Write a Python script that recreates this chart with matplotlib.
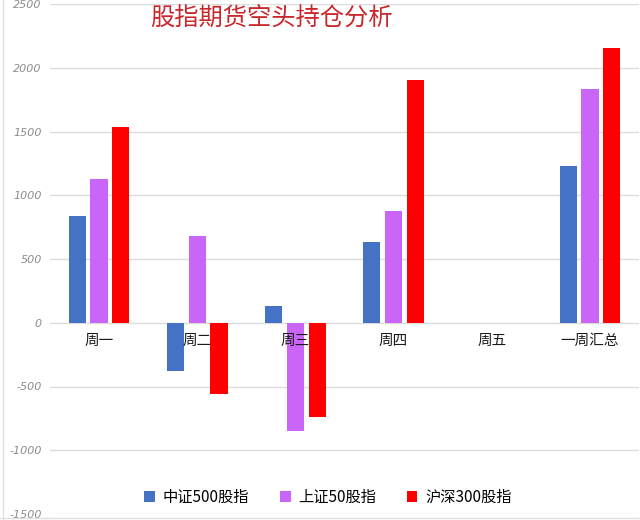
import matplotlib
matplotlib.use("Agg")
import matplotlib.pyplot as plt
from matplotlib.lines import Line2D
from matplotlib.patches import Patch
import numpy as np

plt.rcParams['font.family'] = ['Noto Sans CJK SC', 'DejaVu Sans']

categories = ["周一", "周二", "周三", "周四", "周五", "一周汇总"]
series_names = ["中证500股指", "上证50股指", "沪深300股指"]
csi500 = [836, -380, 128, 630, 0, 1227]
sse50 = [1125, 682, -849, 875, 0, 1836]
csi300 = [1539, -555, -742, 1906, 0, 2156]
yticks = [-1500, -1000, -500, 0, 500, 1000, 1500, 2000, 2500]
title = "股指期货空头持仓分析"

colors = ["#4472C4", "#C965F7", "#FF0000"]

fig = plt.figure(figsize=(6.4, 5.2), dpi=100)
ax = fig.add_axes([50/640, (520-514)/520, 589/640, 510/520])

x = np.arange(len(categories))
w = 0.175
off = 0.222
for i, (vals, c, name) in enumerate(zip([csi500, sse50, csi300], colors, series_names)):
    ax.bar(x + (i - 1) * off, vals, width=w, color=c, label=name, zorder=2)

ax.set_xlim(-0.5, len(categories) - 0.5)
ax.set_ylim(-1500, 2500)
ax.set_yticks(yticks)
ax.set_yticklabels([str(v) for v in yticks], fontsize=8, color="#8C8C8C",
                   style="italic", family="DejaVu Sans")
ax.tick_params(axis="y", length=0, pad=6)
ax.set_xticks([])
ax.grid(axis="y", color="#DCDCDC", linewidth=1.0, zorder=0)
ax.set_axisbelow(True)
for s in ax.spines.values():
    s.set_visible(False)

for i, lab in enumerate(categories):
    ax.annotate(lab, xy=(i, 0), xytext=(0, -8), textcoords="offset points",
                ha="center", va="top", fontsize=10.5, color="#1A1A1A",
                fontweight="medium", zorder=5)

fig.text(271/640, 1 - 19/520, title, ha="center", va="center", fontsize=17.5,
         color="#C8282C")

handles = [Patch(facecolor=c, edgecolor="none") for c in colors]
fig.legend(handles, series_names, loc="center", bbox_to_anchor=(328/640, 1 - 497/520),
           ncol=3, frameon=False, fontsize=11, handlelength=0.7, handleheight=0.7,
           handletextpad=0.5, columnspacing=2.0)

fig.add_artist(Line2D([3/640, 3/640], [0, 1], transform=fig.transFigure,
                      color="#E0E0E0", linewidth=1))
fig.add_artist(Line2D([0, 1], [2/520, 2/520], transform=fig.transFigure,
                      color="#E0E0E0", linewidth=1))

fig.savefig("out.png", dpi=100)
